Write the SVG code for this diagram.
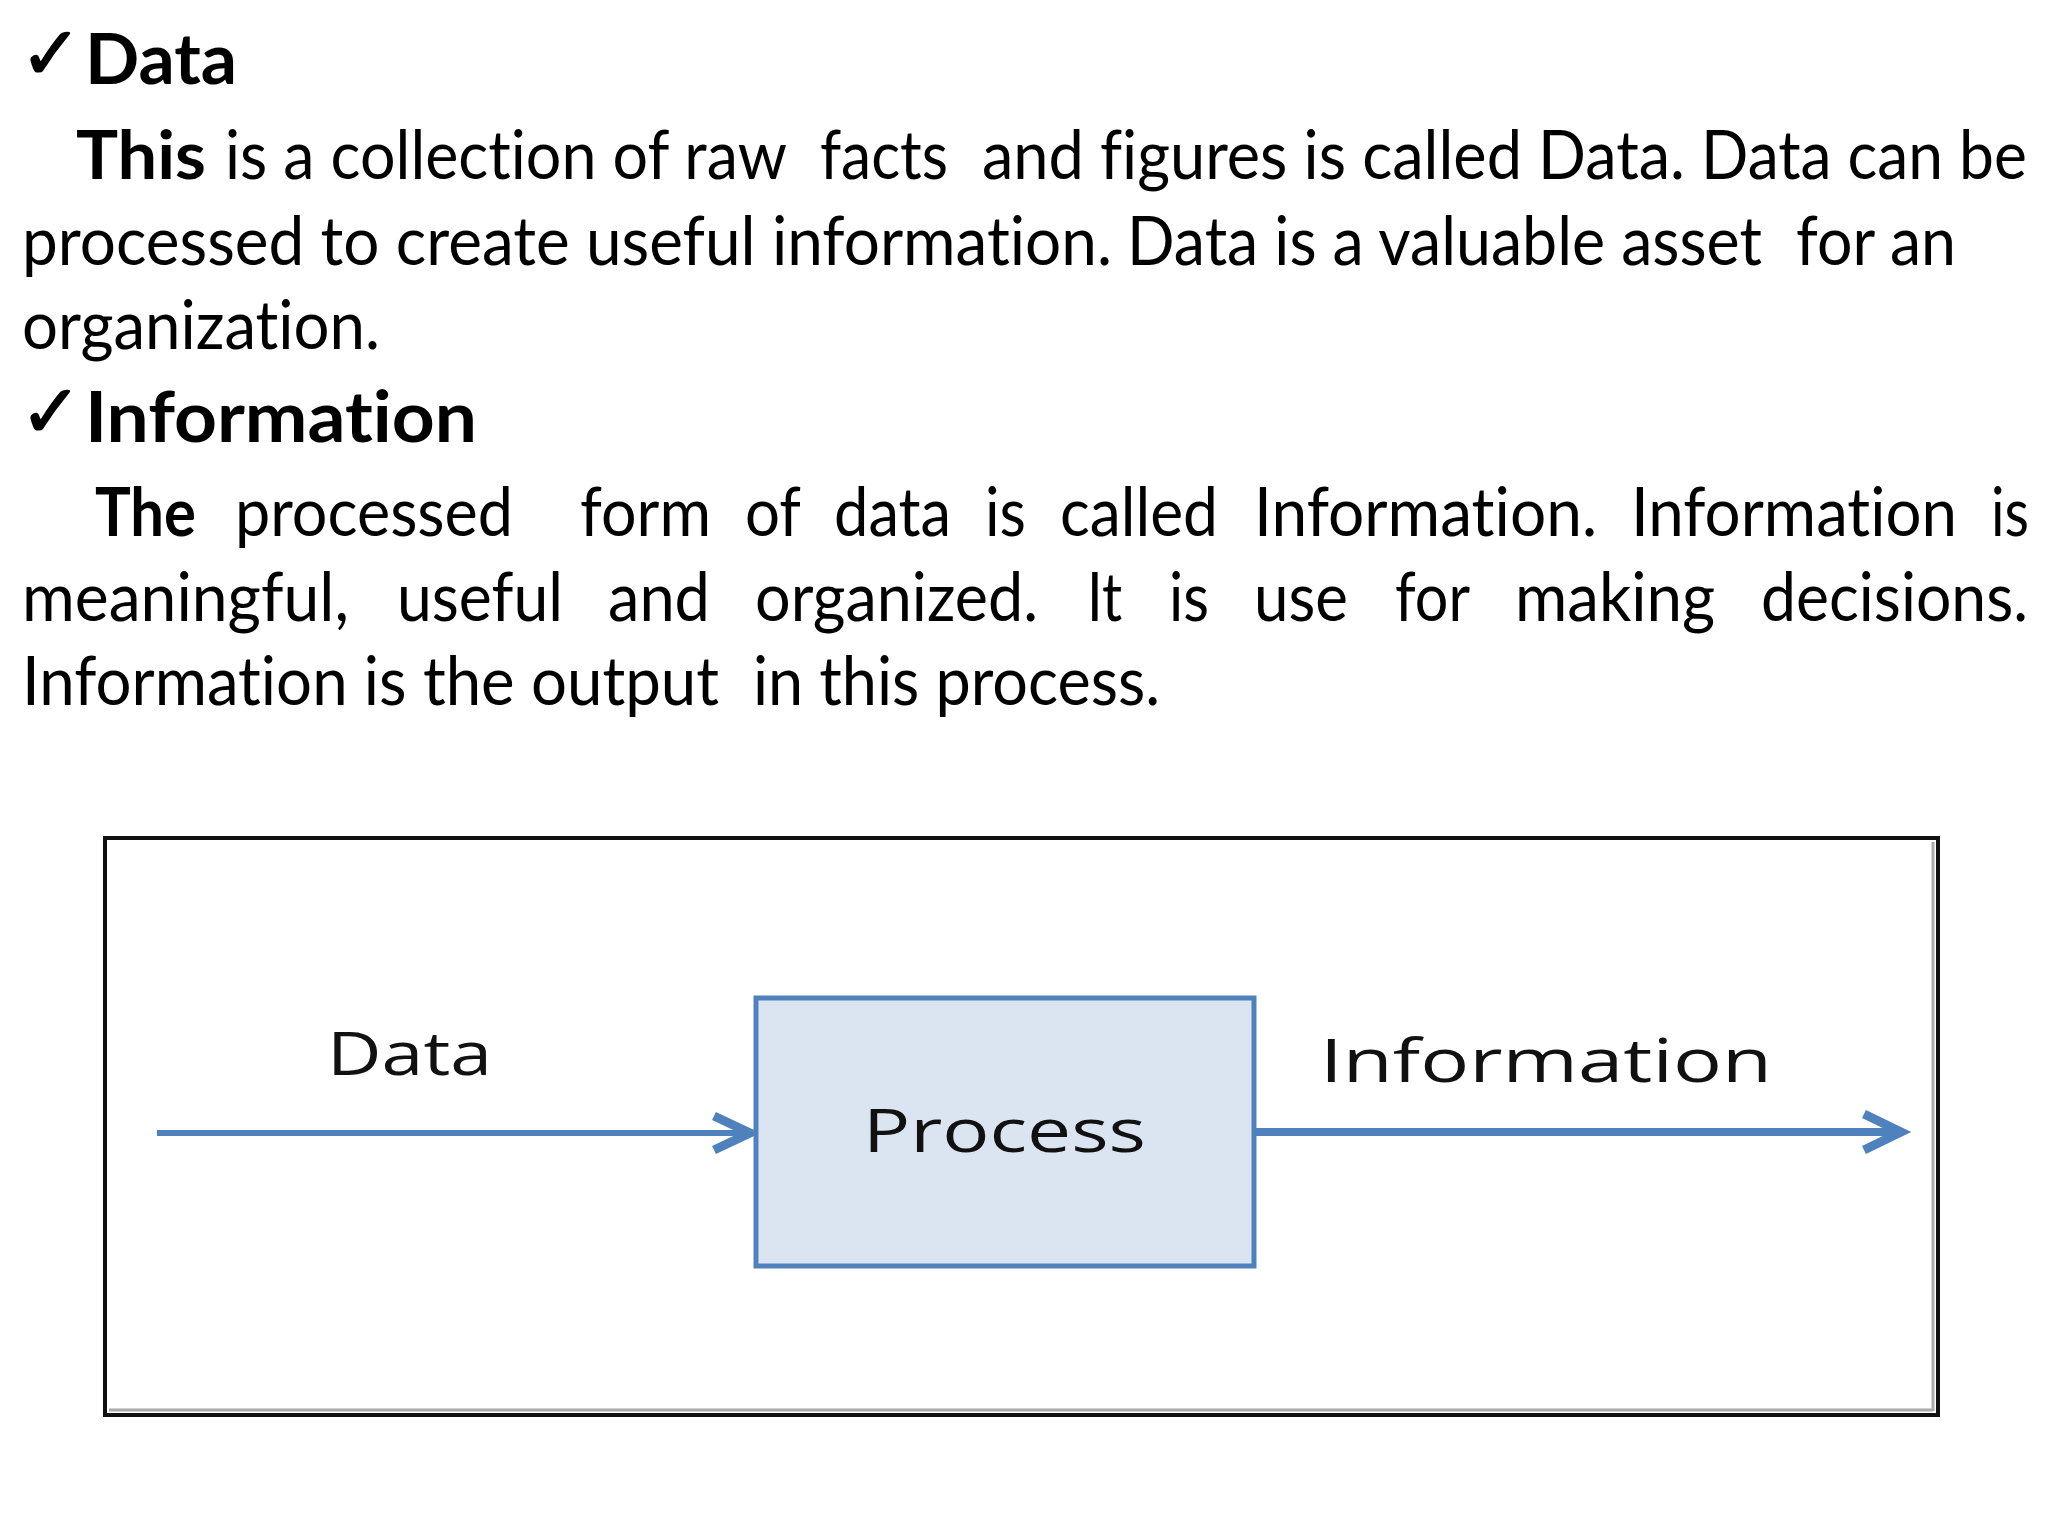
<svg xmlns="http://www.w3.org/2000/svg" width="2048" height="1536" viewBox="0 0 2048 1536">
<style>
.body{font-family:Lato,"Liberation Sans",sans-serif;font-size:67px;fill:#000;font-variant-ligatures:none}
.b{font-weight:bold}
.head{font-family:Lato,"Liberation Sans",sans-serif;font-size:70px;font-weight:bold;fill:#000;font-variant-ligatures:none}
.chk{font-family:"DejaVu Sans",sans-serif;font-size:74px;fill:#000;stroke:#000;stroke-width:1.5}
.lbl{font-family:"Open Sans","DejaVu Sans",sans-serif;font-size:60px;fill:#111}
.conn{stroke:#4f81bd;fill:none;stroke-linecap:butt}
.head-arrow{stroke:#4f81bd;fill:none;stroke-width:9;stroke-linejoin:miter}
</style>
<rect width="2048" height="1536" fill="#fff"/>
<g id="text-block">
<text class="chk" x="20" y="79">✓</text>
<text class="head" x="85" y="84" textLength="152" lengthAdjust="spacingAndGlyphs">Data</text>
<text class="body b" x="76" y="179" textLength="130" lengthAdjust="spacingAndGlyphs">This</text>
<text class="body" x="225" y="179" textLength="562" lengthAdjust="spacingAndGlyphs">is a collection of raw</text>
<text class="body" x="820" y="179" textLength="128" lengthAdjust="spacingAndGlyphs">facts</text>
<text class="body" x="982" y="179" textLength="703" lengthAdjust="spacingAndGlyphs">and figures is called Data.</text>
<text class="body" x="1701" y="179" textLength="326" lengthAdjust="spacingAndGlyphs">Data can be</text>
<text class="body" x="22" y="265" textLength="1090" lengthAdjust="spacingAndGlyphs">processed to create useful information.</text>
<text class="body" x="1127" y="265" textLength="635" lengthAdjust="spacingAndGlyphs">Data is a valuable asset</text>
<text class="body" x="1796" y="265" textLength="160" lengthAdjust="spacingAndGlyphs">for an</text>
<text class="body" x="22" y="349" textLength="358" lengthAdjust="spacingAndGlyphs">organization.</text>
<text class="chk" x="20" y="437">✓</text>
<text class="head" x="85" y="442" textLength="392" lengthAdjust="spacingAndGlyphs">Information</text>
<text class="body b" x="95" y="536" textLength="101" lengthAdjust="spacingAndGlyphs">The</text>
<text class="body" x="235" y="536" textLength="278" lengthAdjust="spacingAndGlyphs">processed</text>
<text class="body" x="580" y="536" textLength="131" lengthAdjust="spacingAndGlyphs">form</text>
<text class="body" x="745" y="536" textLength="56" lengthAdjust="spacingAndGlyphs">of</text>
<text class="body" x="834" y="536" textLength="117" lengthAdjust="spacingAndGlyphs">data</text>
<text class="body" x="985" y="536" textLength="41" lengthAdjust="spacingAndGlyphs">is</text>
<text class="body" x="1060" y="536" textLength="158" lengthAdjust="spacingAndGlyphs">called</text>
<text class="body" x="1254" y="536" textLength="343" lengthAdjust="spacingAndGlyphs">Information.</text>
<text class="body" x="1631" y="536" textLength="326" lengthAdjust="spacingAndGlyphs">Information</text>
<text class="body" x="1991" y="536" textLength="38" lengthAdjust="spacingAndGlyphs">is</text>
<text class="body" x="22" y="621" textLength="327" lengthAdjust="spacingAndGlyphs">meaningful,</text>
<text class="body" x="397" y="621" textLength="166" lengthAdjust="spacingAndGlyphs">useful</text>
<text class="body" x="608" y="621" textLength="102" lengthAdjust="spacingAndGlyphs">and</text>
<text class="body" x="755" y="621" textLength="283" lengthAdjust="spacingAndGlyphs">organized.</text>
<text class="body" x="1087" y="621" textLength="35" lengthAdjust="spacingAndGlyphs">It</text>
<text class="body" x="1169" y="621" textLength="40" lengthAdjust="spacingAndGlyphs">is</text>
<text class="body" x="1254" y="621" textLength="94" lengthAdjust="spacingAndGlyphs">use</text>
<text class="body" x="1395" y="621" textLength="75" lengthAdjust="spacingAndGlyphs">for</text>
<text class="body" x="1515" y="621" textLength="200" lengthAdjust="spacingAndGlyphs">making</text>
<text class="body" x="1761" y="621" textLength="267" lengthAdjust="spacingAndGlyphs">decisions.</text>
<text class="body" x="22" y="705" textLength="697" lengthAdjust="spacingAndGlyphs">Information is the output</text>
<text class="body" x="753" y="705" textLength="407" lengthAdjust="spacingAndGlyphs">in this process.</text>
</g>
<g id="frame">
<rect x="105" y="838" width="1833" height="577" fill="#fff" stroke="#111" stroke-width="4"/>
<line x1="1933" y1="842" x2="1933" y2="1411" stroke="#aaa" stroke-width="3"/>
<line x1="109" y1="1410" x2="1933" y2="1410" stroke="#aaa" stroke-width="3"/>
</g>
<g id="connectors">
<line class="conn" x1="157" y1="1133" x2="748" y2="1133" stroke-width="6"/>
<polyline class="head-arrow" points="714,1116 750,1133 714,1150"/>
<line class="conn" x1="1256" y1="1132" x2="1896" y2="1132" stroke-width="8"/>
<polyline class="head-arrow" points="1864,1114 1901,1132 1864,1150" stroke-width="10"/>
</g>
<g id="node-data-label">
<text class="lbl" x="327" y="1075" textLength="165" lengthAdjust="spacingAndGlyphs">Data</text>
</g>
<g id="node-process">
<rect x="756" y="998" width="498" height="268" fill="#dbe5f1" stroke="#4f81bd" stroke-width="5"/>
<text class="lbl" x="863" y="1152" textLength="283" lengthAdjust="spacingAndGlyphs">Process</text>
</g>
<g id="node-information-label">
<text class="lbl" x="1320" y="1082" textLength="452" lengthAdjust="spacingAndGlyphs">Information</text>
</g>
</svg>
